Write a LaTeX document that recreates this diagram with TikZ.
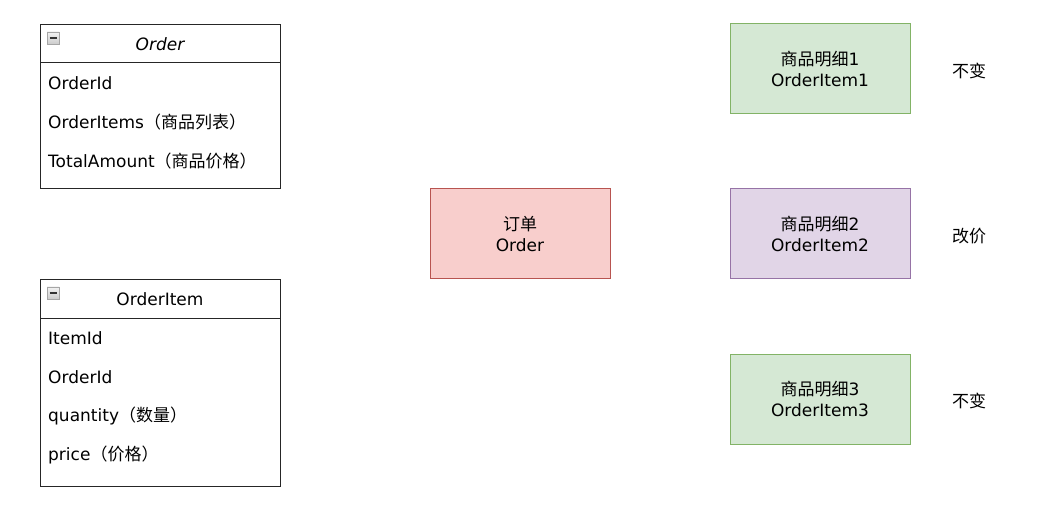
\documentclass[tikz,border=0pt]{standalone}
\usepackage{fontspec}
\setmainfont{DejaVu Sans}
\newfontfamily\cjk{Noto Sans CJK SC}
\begin{document}
\begin{tikzpicture}[x=1pt,y=-1pt,
  every node/.style={font=\fontsize{17}{21}\selectfont, inner sep=0pt},
  classbox/.style={draw=black!85, line width=1pt, fill=white},
  row/.style={anchor=west},
  icon/.style={draw=gray!70, top color=gray!10, bottom color=gray!40, minimum width=12pt, minimum height=12pt, line width=0.6pt},
  redbox/.style={draw={rgb,255:red,184;green,84;blue,80}, fill={rgb,255:red,248;green,206;blue,204}, line width=1pt, minimum width=180pt, minimum height=90pt, align=center},
  greenbox/.style={draw={rgb,255:red,130;green,179;blue,102}, fill={rgb,255:red,213;green,232;blue,212}, line width=1pt, minimum width=180pt, minimum height=90pt, align=center},
  purplebox/.style={draw={rgb,255:red,150;green,115;blue,166}, fill={rgb,255:red,225;green,213;blue,231}, line width=1pt, minimum width=180pt, minimum height=90pt, align=center},
  note/.style={font=\cjk\fontsize{17}{21}\selectfont}
]
\useasboundingbox (0,0) rectangle (1040,510);
% Order class
\draw[classbox] (40,25) rectangle (280,189);
\draw[black!85, line width=1pt] (40,63) -- (280,63);
\node[icon] (ic1) at (53,38) {};
\draw[black!80, line width=1.5pt] (49.5,38) -- (56.5,38);
\node (ordertitle) at (160,44) {\itshape Order};
\node[row] (o1) at (48,83) {OrderId};
\node[row] (o2) at (48,122) {OrderItems{\cjk（商品列表）}};
\node[row] (o3) at (48,161) {TotalAmount{\cjk（商品价格）}};
% OrderItem class
\draw[classbox] (40,280) rectangle (280,486);
\draw[black!85, line width=1pt] (40,318) -- (280,318);
\node[icon] (ic2) at (53,293) {};
\draw[black!80, line width=1.5pt] (49.5,293) -- (56.5,293);
\node (itemtitle) at (160,299) {OrderItem};
\node[row] (i1) at (48,338) {ItemId};
\node[row] (i2) at (48,377) {OrderId};
\node[row] (i3) at (48,416) {quantity{\cjk（数量）}};
\node[row] (i4) at (48,455) {price{\cjk（价格）}};
% boxes
\node[redbox] (order) at (520,234) {{\cjk 订单}\\Order};
\node[greenbox] (item1) at (820,69) {{\cjk 商品明细}1\\OrderItem1};
\node[purplebox] (item2) at (820,234) {{\cjk 商品明细}2\\OrderItem2};
\node[greenbox] (item3) at (820,399) {{\cjk 商品明细}3\\OrderItem3};
\node[note] (n1) at (969,71) {不变};
\node[note] (n2) at (969,236) {改价};
\node[note] (n3) at (969,401) {不变};
\end{tikzpicture}
\end{document}
